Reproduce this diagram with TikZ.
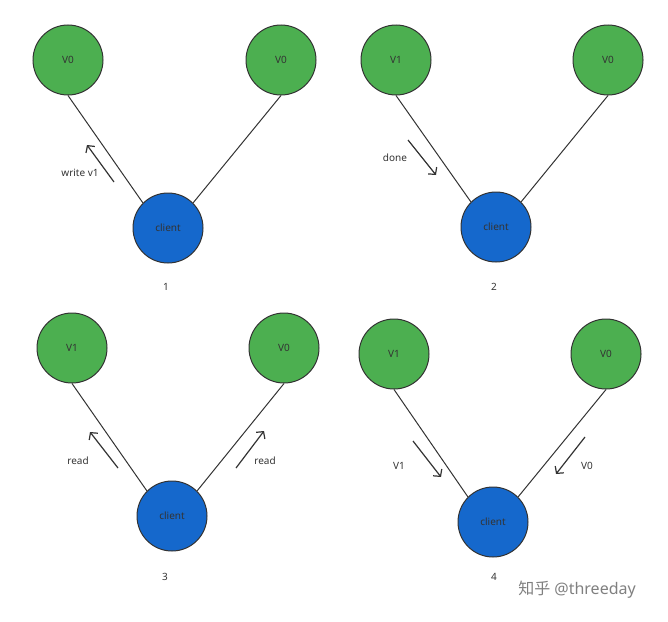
\documentclass[tikz,border=0pt]{standalone}
\usepackage{fontspec}
\setmainfont{Noto Sans}
\newfontfamily\cjk{Noto Sans CJK SC}
\usetikzlibrary{arrows.meta}
\definecolor{srvgreen}{RGB}{76,175,80}
\definecolor{cliblue}{RGB}{21,104,204}
\definecolor{edge}{RGB}{51,51,51}
\begin{document}
\begin{tikzpicture}[x=1pt, y=-1pt, line width=1pt,
	font=\fontsize{10}{12}\selectfont, text=edge]
	\tikzstyle{server}=[circle, draw=edge, fill=srvgreen, minimum size=70pt, inner sep=0pt]
	\tikzstyle{client}=[circle, draw=edge, fill=cliblue, minimum size=70pt, inner sep=0pt]
	\tikzstyle{msg}=[-{Straight Barb[length=5pt,width=11pt]}, draw=edge, line width=1.2pt]
	\useasboundingbox (0,0) rectangle (668,621);
	% % Panel 1
	\node[server](s1a) at (68,60) {V0};
	\node[server](s1b) at (281,60) {V0};
	\node[client](c1) at (168,228) {client};
	\node(n1) at (166,287) {1};
	\draw[edge] (c1.north west) -- (s1a.south);
	\draw[edge] (c1.north east) -- (s1b.south);
	\coordinate (a1s) at (114,182);
	\coordinate (a1e) at (87,145);
	\draw[msg] (a1s) -- (a1e);
	\node(l1) at (80,173) {write v1};
	% % Panel 2
	\node[server](s2a) at (396,60) {V1};
	\node[server](s2b) at (608,60) {V0};
	\node[client](c2) at (496,227) {client};
	\node(n2) at (494,287) {2};
	\draw[edge] (c2.north west) -- (s2a.south);
	\draw[edge] (c2.north east) -- (s2b.south);
	\coordinate (a2s) at (408,140);
	\coordinate (a2e) at (436,175);
	\draw[msg] (a2s) -- (a2e);
	\node(l2) at (395,158) {done};
	% % Panel 3
	\node[server](s3a) at (72,348) {V1};
	\node[server](s3b) at (284,348) {V0};
	\node[client](c3) at (172,516) {client};
	\node(n3) at (165,577) {3};
	\draw[edge] (c3.north west) -- (s3a.south);
	\draw[edge] (c3.north east) -- (s3b.south);
	\coordinate (a3s) at (118,468);
	\coordinate (a3e) at (90,432);
	\draw[msg] (a3s) -- (a3e);
	\coordinate (a3t) at (236,468);
	\coordinate (a3u) at (264,431);
	\draw[msg] (a3t) -- (a3u);
	\node(l3a) at (78,461) {read};
	\node(l3b) at (265,461) {read};
	% % Panel 4
	\node[server](s4a) at (394,354) {V1};
	\node[server](s4b) at (606,354) {V0};
	\node[client](c4) at (493,522) {client};
	\node(n4) at (494,577) {4};
	\draw[edge] (c4.north west) -- (s4a.south);
	\draw[edge] (c4.north east) -- (s4b.south);
	\coordinate (a4s) at (413,441);
	\coordinate (a4e) at (441,477);
	\draw[msg] (a4s) -- (a4e);
	\coordinate (a4t) at (585,437);
	\coordinate (a4u) at (556,474);
	\draw[msg] (a4t) -- (a4u);
	\node(l4a) at (399,466) {V1};
	\node(l4b) at (587,466) {V0};
	% watermark
	\node[text=gray, font=\fontsize{16}{18}\selectfont](wm) at (577,590) {{\cjk 知乎} @threeday};
\end{tikzpicture}
\end{document}
